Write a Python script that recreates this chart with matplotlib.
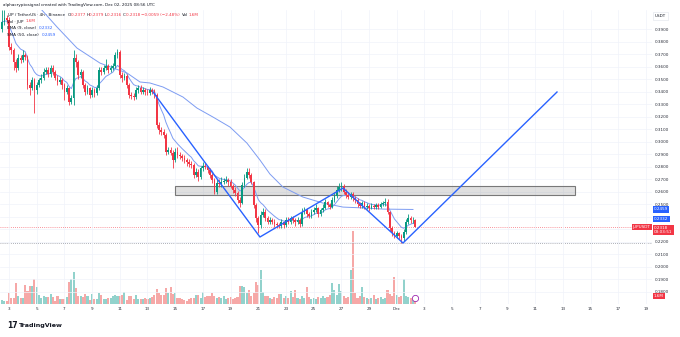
"""
JUP/USDT 4h chart with double-bottom sketch, TradingView style.
"""
import matplotlib
matplotlib.use('Agg')
import matplotlib.pyplot as plt
import matplotlib.patches as mpatches
import numpy as np
import pandas as pd

# ─── Data ───────────────────────────────────────────────────────────────────

start_day = 2.5          # Nov 2, 12:00 (x axis = day of November)
bar_days = 1 / 6         # 4h candles
first_open = 0.3900

closes = [
    0.3956, 0.3988, 0.3972, 0.3756, 0.3732, 0.3636, 0.3588, 0.3668, 0.3652, 0.3692,
    0.3676, 0.3453, 0.3429, 0.3493, 0.3413, 0.3453, 0.3493, 0.3509, 0.3556, 0.3572,
    0.3540, 0.3588, 0.3556, 0.3509, 0.3477, 0.3493, 0.3453, 0.3397, 0.3429, 0.3317,
    0.3349, 0.3668, 0.3636, 0.3533, 0.3556, 0.3453, 0.3397, 0.3429, 0.3373, 0.3413,
    0.3389, 0.3429, 0.3572, 0.3556, 0.3588, 0.3604, 0.3572, 0.3588, 0.3604, 0.3692,
    0.3716, 0.3533, 0.3509, 0.3525, 0.3453, 0.3373, 0.3365, 0.3357, 0.3413, 0.3429,
    0.3397, 0.3413, 0.3397, 0.3389, 0.3413, 0.3397, 0.3373, 0.3133, 0.3093, 0.3077,
    0.3053, 0.2918, 0.2934, 0.2910, 0.2854, 0.2918, 0.2894, 0.2886, 0.2870, 0.2854,
    0.2838, 0.2822, 0.2814, 0.2734, 0.2758, 0.2718, 0.2790, 0.2806, 0.2798, 0.2774,
    0.2734, 0.2694, 0.2598, 0.2670, 0.2662, 0.2678, 0.2686, 0.2694, 0.2678, 0.2646,
    0.2614, 0.2590, 0.2534, 0.2510, 0.2654, 0.2710, 0.2758, 0.2734, 0.2678, 0.2494,
    0.2390, 0.2334, 0.2414, 0.2438, 0.2390, 0.2358, 0.2374, 0.2358, 0.2342, 0.2334,
    0.2326, 0.2358, 0.2334, 0.2374, 0.2358, 0.2390, 0.2374, 0.2358, 0.2374, 0.2342,
    0.2438, 0.2454, 0.2422, 0.2406, 0.2438, 0.2454, 0.2470, 0.2422, 0.2454, 0.2470,
    0.2518, 0.2494, 0.2478, 0.2534, 0.2566, 0.2614, 0.2638, 0.2646, 0.2598, 0.2574,
    0.2558, 0.2582, 0.2550, 0.2534, 0.2502, 0.2486, 0.2510, 0.2478, 0.2486, 0.2470,
    0.2486, 0.2478, 0.2494, 0.2478, 0.2502, 0.2510, 0.2518, 0.2438, 0.2311, 0.2271,
    0.2247, 0.2271, 0.2247, 0.2231, 0.2279, 0.2358, 0.2390, 0.2374, 0.2377, 0.2318,
]

highs = [
    0.4052, 0.4050, 0.4010, 0.3995, 0.3790, 0.3750, 0.3660, 0.3700, 0.3690, 0.3730,
    0.3710, 0.3690, 0.3480, 0.3520, 0.3510, 0.3480, 0.3510, 0.3540, 0.3590, 0.3600,
    0.3600, 0.3610, 0.3610, 0.3570, 0.3530, 0.3520, 0.3510, 0.3470, 0.3450, 0.3440,
    0.3370, 0.3732, 0.3700, 0.3650, 0.3580, 0.3570, 0.3470, 0.3450, 0.3440, 0.3440,
    0.3430, 0.3450, 0.3600, 0.3600, 0.3610, 0.3660, 0.3620, 0.3610, 0.3630, 0.3720,
    0.3740, 0.3730, 0.3560, 0.3550, 0.3540, 0.3470, 0.3400, 0.3390, 0.3440, 0.3450,
    0.3450, 0.3440, 0.3430, 0.3420, 0.3440, 0.3430, 0.3420, 0.3390, 0.3160, 0.3120,
    0.3100, 0.3070, 0.2960, 0.2960, 0.2930, 0.2950, 0.2960, 0.2920, 0.2900, 0.2890,
    0.2870, 0.2860, 0.2850, 0.2830, 0.2790, 0.2780, 0.2810, 0.2840, 0.2830, 0.2810,
    0.2790, 0.2750, 0.2710, 0.2700, 0.2700, 0.2720, 0.2710, 0.2730, 0.2710, 0.2700,
    0.2660, 0.2640, 0.2610, 0.2560, 0.2680, 0.2740, 0.2790, 0.2790, 0.2750, 0.2690,
    0.2510, 0.2410, 0.2450, 0.2470, 0.2460, 0.2410, 0.2400, 0.2390, 0.2380, 0.2360,
    0.2350, 0.2380, 0.2370, 0.2400, 0.2400, 0.2410, 0.2410, 0.2390, 0.2400, 0.2390,
    0.2470, 0.2480, 0.2470, 0.2440, 0.2460, 0.2480, 0.2500, 0.2480, 0.2470, 0.2500,
    0.2540, 0.2530, 0.2510, 0.2560, 0.2600, 0.2650, 0.2670, 0.2678, 0.2660, 0.2620,
    0.2600, 0.2600, 0.2600, 0.2570, 0.2550, 0.2520, 0.2530, 0.2530, 0.2510, 0.2500,
    0.2510, 0.2500, 0.2510, 0.2510, 0.2520, 0.2530, 0.2550, 0.2540, 0.2450, 0.2330,
    0.2290, 0.2290, 0.2280, 0.2260, 0.2300, 0.2380, 0.2420, 0.2410, 0.2400, 0.2379,
]

lows = [
    0.3880, 0.3930, 0.3950, 0.3730, 0.3700, 0.3570, 0.3560, 0.3570, 0.3630, 0.3640,
    0.3650, 0.3420, 0.3370, 0.3410, 0.3229, 0.3380, 0.3440, 0.3470, 0.3490, 0.3540,
    0.3520, 0.3520, 0.3530, 0.3490, 0.3450, 0.3460, 0.3420, 0.3330, 0.3380, 0.3290,
    0.3300, 0.3293, 0.3600, 0.3500, 0.3510, 0.3430, 0.3370, 0.3380, 0.3350, 0.3360,
    0.3360, 0.3370, 0.3410, 0.3530, 0.3540, 0.3570, 0.3550, 0.3560, 0.3570, 0.3590,
    0.3670, 0.3510, 0.3480, 0.3490, 0.3430, 0.3350, 0.3340, 0.3330, 0.3340, 0.3390,
    0.3380, 0.3380, 0.3370, 0.3370, 0.3370, 0.3380, 0.3350, 0.3110, 0.3060, 0.3050,
    0.3030, 0.2890, 0.2900, 0.2890, 0.2790, 0.2840, 0.2870, 0.2860, 0.2850, 0.2830,
    0.2810, 0.2800, 0.2790, 0.2710, 0.2720, 0.2686, 0.2700, 0.2770, 0.2780, 0.2750,
    0.2710, 0.2670, 0.2580, 0.2580, 0.2640, 0.2640, 0.2660, 0.2670, 0.2650, 0.2630,
    0.2590, 0.2570, 0.2510, 0.2480, 0.2500, 0.2640, 0.2700, 0.2710, 0.2660, 0.2470,
    0.2360, 0.2271, 0.2310, 0.2400, 0.2370, 0.2340, 0.2340, 0.2340, 0.2320, 0.2310,
    0.2310, 0.2310, 0.2310, 0.2320, 0.2340, 0.2340, 0.2350, 0.2330, 0.2340, 0.2320,
    0.2330, 0.2420, 0.2400, 0.2390, 0.2390, 0.2420, 0.2440, 0.2400, 0.2410, 0.2440,
    0.2460, 0.2480, 0.2460, 0.2470, 0.2520, 0.2550, 0.2600, 0.2610, 0.2580, 0.2550,
    0.2540, 0.2540, 0.2530, 0.2510, 0.2480, 0.2470, 0.2470, 0.2460, 0.2460, 0.2450,
    0.2460, 0.2460, 0.2460, 0.2460, 0.2470, 0.2490, 0.2490, 0.2420, 0.2290, 0.2250,
    0.2230, 0.2230, 0.2220, 0.2195, 0.2210, 0.2260, 0.2340, 0.2350, 0.2350, 0.2316,
]

# volume in millions of JUP
volumes = [
    0.8, 0.6, 0.6, 2.2, 1.2, 1.2, 4.2, 1.6, 1.2, 1.2,
    3.8, 2.6, 3.6, 3.6, 5.0, 3.4, 1.8, 1.2, 1.6, 1.4,
    1.4, 2.0, 1.4, 0.6, 1.6, 1.0, 1.0, 1.0, 1.4, 4.4,
    5.0, 6.4, 3.2, 1.6, 1.6, 1.4, 2.0, 1.6, 0.8, 2.0,
    1.0, 1.0, 2.2, 1.8, 1.0, 1.0, 1.2, 1.2, 1.6, 1.8,
    1.6, 1.6, 1.8, 2.4, 0.8, 1.6, 1.6, 1.0, 1.8, 1.0,
    1.0, 1.0, 1.2, 1.0, 1.2, 1.4, 1.8, 3.0, 2.2, 1.8,
    1.8, 3.2, 2.2, 3.4, 2.0, 2.2, 1.2, 1.2, 1.0, 0.8,
    0.6, 1.0, 1.2, 1.2, 1.8, 1.8, 1.2, 2.4, 1.4, 1.6,
    1.6, 2.2, 1.6, 1.2, 1.4, 1.2, 1.6, 1.0, 1.2, 1.4,
    1.0, 1.2, 1.4, 3.6, 3.6, 3.4, 2.2, 2.8, 1.6, 2.2,
    4.4, 3.8, 6.8, 2.4, 1.6, 1.6, 1.2, 1.0, 1.4, 1.2,
    2.0, 2.0, 1.2, 1.6, 1.2, 2.6, 1.4, 2.8, 1.2, 1.0,
    1.6, 1.2, 3.4, 1.4, 1.0, 1.2, 1.0, 1.4, 1.2, 1.6,
    1.2, 1.4, 1.8, 4.2, 2.8, 1.8, 4.0, 2.6, 1.6, 1.2,
    1.4, 6.8, 14.6, 2.2, 1.2, 1.6, 3.4, 1.4, 1.2, 1.0,
    1.2, 1.8, 1.0, 1.2, 1.4, 1.0, 1.2, 2.8, 2.0, 1.6,
    5.4, 1.8, 1.4, 1.6, 5.0, 1.6, 1.4, 1.2, 0.8, 1.6,
]

# SMA 50 (its history starts before the visible window)
sma50_x = [5.24, 6.47, 7.91, 9.57, 10.51, 11.52, 12.46, 13.18, 14.12, 15.56, 16.57,
           17.73, 18.96, 20.18, 21.12, 21.84, 22.78, 24.23, 25.67, 27.12, 28.85,
           30.00, 32.17]
sma50_y = [0.4068, 0.3916, 0.3748, 0.3628, 0.3589, 0.3549, 0.3477, 0.3469, 0.3437,
           0.3357, 0.3269, 0.3197, 0.3117, 0.2989, 0.2854, 0.2742, 0.2638, 0.2558,
           0.2510, 0.2478, 0.2470, 0.2462, 0.2459]

ema_label = 0.2332
sma_label = 0.2459
vol_label = '1.6M'
countdown = '03:03:51'

# drawn double-bottom projection and resistance zone
pattern_x = [13.40, 21.12, 27.12, 31.45, 42.57]
pattern_y = [0.3397, 0.2239, 0.2630, 0.2191, 0.3397]
zone_x = [14.99, 43.87]
zone_y = [0.2574, 0.2646]
period_low = 0.2195

price_ticks = [round(0.18 + 0.01 * k, 2) for k in range(22)]
hidden_price_labels = [0.23, 0.24]   # covered by the price tags on the reference
day_ticks = list(range(3, 50, 2))
day_labels = ['3', '5', '7', '9', '11', '13', '15', '17', '19', '21', '23', '25', '27',
              '29', 'Dec', '3', '5', '7', '9', '11', '13', '15', '17', '19']

# ─── Style ──────────────────────────────────────────────────────────────────

W, H = 680, 337
GREEN = '#089981'
RED = '#f23645'
BLUE = '#2962ff'
MA_BLUE = '#7d9cf2'
TEXT = '#131722'
GRID = '#f0f3fa'
FS = 3.0


def rich_text(fig, x_px, y_px, pieces, size=FS):
    """Draw consecutive coloured text pieces on one line (pixel coords)."""
    renderer = fig.canvas.get_renderer()
    x = x_px
    for s, col in pieces:
        t = fig.text(x / W, 1 - y_px / H, s, color=col, fontsize=size,
                     ha='left', va='center')
        x += t.get_window_extent(renderer=renderer).width


def right_label(ax, y, text, fc, dy=0, va='center', tc='white', ec='none', trans=None):
    ax.annotate(text, xy=(1, y), xycoords=trans or ax.get_yaxis_transform(),
                xytext=(1.5, dy), textcoords='offset points', ha='left', va=va,
                fontsize=FS, color=tc, annotation_clip=False, zorder=10,
                linespacing=1.1,
                bbox=dict(boxstyle='square,pad=0.25', fc=fc, ec=ec, lw=0.4))


# ─── Plot ───────────────────────────────────────────────────────────────────

closes_a = np.array(closes)
opens_a = np.array([first_open] + closes[:-1])
highs_a = np.array(highs)
lows_a = np.array(lows)
vols_a = np.array(volumes)
x = start_day + np.arange(len(closes)) * bar_days
up = closes_a >= opens_a
colors = np.where(up, GREEN, RED)
vol_colors = np.where(up, '#26a69a', '#ef5350')

fig = plt.figure(figsize=(W / 100, H / 100), dpi=100)
fig.patch.set_facecolor('white')
rect = [0.0, (H - 304) / H, 652 / W, 294 / H]
ax_v = fig.add_axes(rect)
ax = fig.add_axes(rect)
ax.patch.set_visible(False)

xlim = (2.35, 49.43)

# volume pane
ax_v.bar(x, vols_a, width=0.15, color=vol_colors, alpha=0.5, linewidth=0)
ax_v.set_xlim(*xlim)
ax_v.set_ylim(0, 58.8)
ax_v.axis('off')
right_label(ax_v, volumes[-1], vol_label, RED, trans=ax_v.get_yaxis_transform())
ax_v.plot([x[-1] - 0.05], [0.02], marker='o', ms=4.5, mfc='white', mec='#9c27b0',
          mew=0.6, transform=ax_v.get_xaxis_transform(), clip_on=False)

# price pane
ax.set_xlim(*xlim)
ax.set_ylim(0.1704, 0.4052)
ax.set_xticks(day_ticks)
ax.set_xticklabels(day_labels)
ax.set_yticks(price_ticks)
ax.set_yticklabels(['' if p in hidden_price_labels else f'{p:.4f}' for p in price_ticks])
ax.yaxis.tick_right()
ax.tick_params(length=0, labelsize=FS, colors='#2a2e39', pad=2.2)
ax.grid(True, color=GRID, lw=0.5, zorder=0)
for s in ax.spines.values():
    s.set_visible(False)

ax.add_patch(mpatches.Rectangle((zone_x[0], zone_y[0]), zone_x[1] - zone_x[0],
                                zone_y[1] - zone_y[0], facecolor=(0.5, 0.5, 0.5, 0.25),
                                edgecolor='#787878', lw=0.8, zorder=2))

ax.axhline(closes[-1], color=RED, lw=0.6, ls=(0, (1, 1.5)), alpha=0.7, zorder=1)
ax.axhline(period_low, color='#9598a1', lw=0.6, ls=(0, (1, 1.5)), zorder=1)

# moving averages
ema9 = pd.Series(closes).ewm(span=9, adjust=False).mean()
ax.plot(x, ema9, color=MA_BLUE, lw=0.7, zorder=3)
ax.plot(sma50_x, sma50_y, color=MA_BLUE, lw=0.7, zorder=3)

# candles
ax.vlines(x, lows_a, highs_a, colors=colors, lw=0.6, zorder=4)
body = np.maximum(np.abs(closes_a - opens_a), 0.0003)
ax.bar(x, body, bottom=np.minimum(opens_a, closes_a), width=0.125, color=colors,
       linewidth=0, zorder=5)

# pattern projection
ax.plot(pattern_x, pattern_y, color=BLUE, lw=1.0, zorder=6)

# right axis labels
ax.annotate('USDT', xy=(1, 1), xycoords='axes fraction', xytext=(2, -3),
            textcoords='offset points', ha='left', va='top', fontsize=FS, color=TEXT,
            annotation_clip=False,
            bbox=dict(boxstyle='square,pad=0.4', fc='white', ec='#e0e3eb', lw=0.4))
right_label(ax, sma_label, f'{sma_label:.4f}', BLUE)
right_label(ax, ema_label, f'{ema_label:.4f}', BLUE, dy=4.8)
right_label(ax, closes[-1], f'{closes[-1]:.4f}\n{countdown}', RED, dy=1.0, va='top')
ax.annotate('JUPUSDT', xy=(1, closes[-1]), xycoords=ax.get_yaxis_transform(),
            xytext=(-1, 0), textcoords='offset points', ha='right', va='center',
            fontsize=FS, color='white', annotation_clip=False, zorder=10,
            bbox=dict(boxstyle='square,pad=0.25', fc=RED, ec='none'))

# header and legend
fig.text(3 / W, 1 - 5 / H, 'alphacryptosignal created with TradingView.com, '
         'Dec 02, 2025 08:56 UTC', fontsize=FS, color=TEXT, va='center')

o, h, l, c = opens_a[-1], highs[-1], lows[-1], closes[-1]
chg = c - o
rich_text(fig, 7, 15, [
    ('JUP / TetherUS · 4h · Binance  ', TEXT),
    ('O', TEXT), (f'{o:.4f} ', RED), ('H', TEXT), (f'{h:.4f} ', RED),
    ('L', TEXT), (f'{l:.4f} ', RED), ('C', TEXT), (f'{c:.4f} ', RED),
    (f'{chg:+.4f} ({chg / o * 100:+.2f}%)  '.replace('-', '−'), RED),
    ('Vol', TEXT), (vol_label, RED)])
rich_text(fig, 7, 21.5, [('Vol · JUP  ', TEXT), (vol_label, RED)])
rich_text(fig, 7, 28, [('EMA (9, close)  ', TEXT), (f'{ema_label:.4f}', BLUE)])
rich_text(fig, 7, 34.5, [('SMA (50, close)  ', TEXT), (f'{sma_label:.4f}', BLUE)])

# TradingView mark
fig.text(7 / W, 1 - 326 / H, '17', fontsize=5.5, fontweight='heavy', color=TEXT,
         va='center')
fig.text(19 / W, 1 - 326 / H, 'TradingView', fontsize=4.6, fontweight='bold',
         color=TEXT, va='center')

fig.savefig('out.png', dpi=100, facecolor='white')
plt.close(fig)
